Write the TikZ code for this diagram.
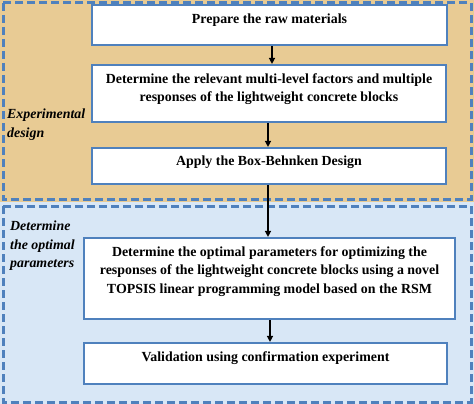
\documentclass[tikz,border=0pt]{standalone}
\usepackage{fontspec}
\setmainfont{Liberation Serif}
\usetikzlibrary{arrows.meta}
\definecolor{tan}{HTML}{E8CB94}
\definecolor{sky}{HTML}{D8E7F6}
\definecolor{edge}{HTML}{4F81BD}
\tikzset{
  region/.style={draw=edge, line width=3pt, dash pattern=on 8pt off 4pt},
  stepbox/.style={draw=edge, line width=2.2pt, fill=white, inner sep=0pt},
  steptext/.style={font=\bfseries\fontsize{13.9}{18.5}\selectfont, align=center},
  sidetext/.style={font=\bfseries\itshape\fontsize{13.9}{18.5}\selectfont, align=left, anchor=north west, inner sep=0pt},
  flow/.style={-{Triangle[length=6pt,width=6pt]}, line width=2pt, black}
}
\begin{document}
\begin{tikzpicture}[x=1pt,y=-1pt]
\useasboundingbox (0,0) rectangle (474,404);
% backgrounds
\fill[tan] (0,0) rectangle (474,202);
\fill[sky] (0,202) rectangle (474,404);
\draw[region] (3,3) rectangle (471,199);
\draw[region] (3,206) rectangle (471,402);
% boxes
\node[stepbox, minimum width=355pt, minimum height=40pt] (b1) at (269.5,25) {};
\node[stepbox, minimum width=354pt, minimum height=57pt] (b2) at (269,93.5) {};
\node[stepbox, minimum width=354pt, minimum height=36pt] (b3) at (269,166) {};
\node[stepbox, minimum width=371pt, minimum height=81pt] (b4) at (269.5,278.5) {};
\node[stepbox, minimum width=363pt, minimum height=41pt] (b5) at (265.5,363.5) {};
% texts
\node[steptext] (t1) at (269.5,20) {Prepare the raw materials};
\node[steptext] (t2) at (269,89) {Determine the relevant multi-level factors and multiple\\responses of the lightweight concrete blocks};
\node[steptext] (t3) at (269,162) {Apply the Box-Behnken Design};
\node[steptext] (t4) at (269.5,271.5) {Determine the optimal parameters for optimizing the\\responses of the lightweight concrete blocks using a novel\\TOPSIS linear programming model based on the RSM};
\node[steptext] (t5) at (265.5,358) {Validation using confirmation experiment};
% side labels
\node[sidetext] (s1) at (7,109) {Experimental\\design};
\node[sidetext] (s2) at (10,221) {Determine\\the optimal\\parameters};
% arrows
\draw[flow] ([xshift=2.5pt]b1.south) -- ([xshift=3pt]b2.north);
\draw[flow] ([xshift=-1pt]b2.south) -- ([xshift=-1pt]b3.north);
\draw[flow] ([xshift=-1pt]b3.south) -- ([xshift=-1.5pt]b4.north);
\draw[flow] ([xshift=0.5pt]b4.south) -- ([xshift=4.5pt]b5.north);
\end{tikzpicture}
\end{document}
